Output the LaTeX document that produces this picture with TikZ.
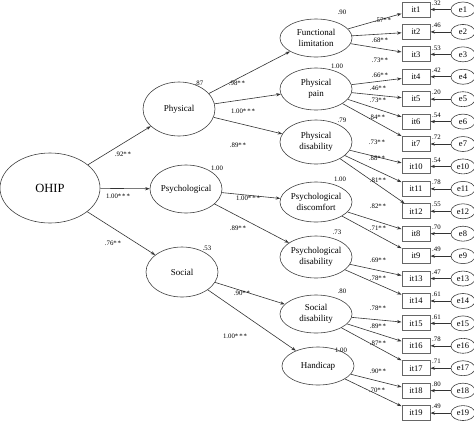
\documentclass[tikz,border=0pt]{standalone}
\usepackage{fontspec}
\setmainfont{Liberation Serif}
\usetikzlibrary{shapes.geometric,arrows.meta}
\newcommand\sst{*\kern0.9pt*}
\newcommand\ssst{*\kern0.9pt*\kern0.9pt*}
\begin{document}
\begin{tikzpicture}[x=1pt,y=-1pt,
  lat/.style={ellipse,draw=black!75,line width=0.6pt,inner sep=0pt,align=center,font=\fontsize{9}{10.5}\selectfont},
  item/.style={rectangle,draw=black!60,line width=0.9pt,minimum width=28pt,minimum height=15pt,inner sep=0pt,font=\fontsize{8.5}{9}\selectfont},
  err/.style={ellipse,draw=black!75,line width=0.6pt,minimum width=24pt,minimum height=15pt,inner sep=0pt,font=\fontsize{8.5}{9}\selectfont},
  arr/.style={-{Stealth[length=4.5pt,width=3.2pt]},line width=0.6pt,draw=black!80},
  num/.style={font=\fontsize{6.8}{7}\selectfont,inner sep=0pt}]
\useasboundingbox (0,0) rectangle (474,424);
% second-order structure
\node[lat,minimum width=100pt,minimum height=70pt,font=\fontsize{12.5}{13}\selectfont] (ohip) at (50,188) {OHIP};
\node[lat,minimum width=72pt,minimum height=54pt] (phy) at (179,109) {Physical};
\node[lat,minimum width=72pt,minimum height=48pt] (psy) at (186,189) {Psychological};
\node[lat,minimum width=72pt,minimum height=50pt] (soc) at (182,272) {Social};
% first-order factors
\node[lat,minimum width=72pt,minimum height=38pt] (fl) at (316,38) {Functional\\limitation};
\node[lat,minimum width=72pt,minimum height=42pt] (pp) at (316,89) {Physical\\pain};
\node[lat,minimum width=72pt,minimum height=44pt] (pd) at (316,142) {Physical\\disability};
\node[lat,minimum width=72pt,minimum height=40pt] (psd) at (316,202) {Psychological\\discomfort};
\node[lat,minimum width=72pt,minimum height=42pt] (psdis) at (316,257) {Psychological\\disability};
\node[lat,minimum width=72pt,minimum height=38pt] (sd) at (316,314) {Social\\disability};
\node[lat,minimum width=72pt,minimum height=38pt] (hc) at (318,366) {Handicap};
% items and errors
\foreach \i/\n/\v in {0/1/.32,1/2/.46,2/3/.53,3/4/.42,4/5/.20,5/6/.54,6/7/.72,7/10/.54,8/11/.78,9/12/.55,10/8/.70,11/9/.49,12/13/.47,13/14/.61,14/15/.61,15/16/.78,16/17/.71,17/18/.80,18/19/.49}{
  \pgfmathsetmacro\yy{9.5+22.42*\i}
  \node[item] (it\n) at (416,\yy) {it\n};
  \node[err] (e\n) at (463,\yy) {e\n};
  \draw[arr] (e\n) -- (it\n);
  \node[num,anchor=west] (v\n) at (432,\yy-6.5) {\v};
}
% structural arrows
\draw[arr] (ohip) -- (phy);
\draw[arr] (ohip) -- (psy);
\draw[arr] (ohip) -- (soc);
\draw[arr] (phy) -- (fl);
\draw[arr] (phy) -- (pp);
\draw[arr] (phy) -- (pd);
\draw[arr] (psy) -- (psd);
\draw[arr] (psy) -- (psdis);
\draw[arr] (soc) -- (sd);
\draw[arr] (soc) -- (hc);
% loadings
\foreach \f/\t in {fl/1,fl/2,fl/3,pp/4,pp/5,pp/6,pp/7,pd/10,pd/11,pd/12,psd/8,psd/9,psdis/13,psdis/14,sd/15,sd/16,sd/17,hc/18,hc/19}{
  \draw[arr] (\f) -- (it\t);
}
% second-order labels
\node[num] (l1) at (123,154) {.92\sst};
\node[num] (l2) at (118,196) {1.00\ssst};
\node[num] (l3) at (113,243) {.76\sst};
\node[num] (r1) at (199,83) {.87};
\node[num] (r2) at (217,168) {1.00};
\node[num] (r3) at (207,248) {.53};
\node[num] (l4) at (237,83) {.98\sst};
\node[num] (l5) at (243,111) {1.00\ssst};
\node[num] (l6) at (238,145) {.89\sst};
\node[num] (l7) at (248,198) {1.00\ssst};
\node[num] (l8) at (238,228) {.89\sst};
\node[num] (l9) at (242,293) {.90\sst};
\node[num] (l10) at (235,336) {1.00\ssst};
% first-order R2
\node[num] (q1) at (342,12) {.90};
\node[num] (q2) at (337,66) {1.00};
\node[num] (q3) at (342,120) {.79};
\node[num] (q4) at (340,179) {1.00};
\node[num] (q5) at (337,232) {.73};
\node[num] (q6) at (342,291) {.80};
\node[num] (q7) at (341,350) {1.00};
% item loadings
\node[num] (m1) at (383,20) {.57\sst};
\node[num] (m2) at (380,40) {.68\sst};
\node[num] (m3) at (380,60) {.73\sst};
\node[num] (m4) at (380,75) {.66\sst};
\node[num] (m5) at (378,88) {.46\sst};
\node[num] (m6) at (378,100) {.73\sst};
\node[num] (m7) at (377,117) {.84\sst};
\node[num] (m8) at (377,142) {.73\sst};
\node[num] (m9) at (377,158) {.88\sst};
\node[num] (m10) at (378,180) {.81\sst};
\node[num] (m11) at (378,206) {.82\sst};
\node[num] (m12) at (378,228) {.71\sst};
\node[num] (m13) at (378,260) {.69\sst};
\node[num] (m14) at (378,278) {.78\sst};
\node[num] (m15) at (378,308) {.78\sst};
\node[num] (m16) at (378,326) {.89\sst};
\node[num] (m17) at (378,343) {.87\sst};
\node[num] (m18) at (378,371) {.90\sst};
\node[num] (m19) at (377,390) {.70\sst};
\end{tikzpicture}
\end{document}
